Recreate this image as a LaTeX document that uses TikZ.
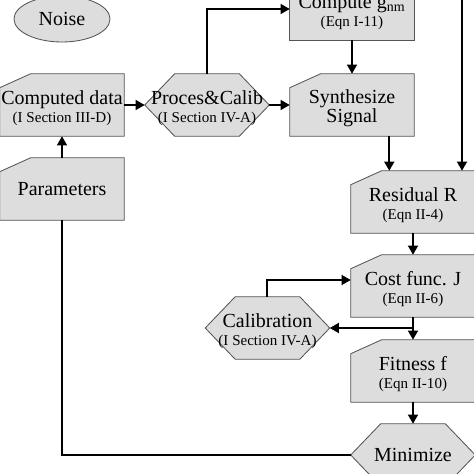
\documentclass[tikz,border=0pt]{standalone}
\usepackage{fontspec}
\setmainfont{Liberation Serif}
\usetikzlibrary{shapes.geometric,arrows.meta,backgrounds}
\definecolor{boxfill}{RGB}{221,221,221}
\definecolor{boxline}{RGB}{85,85,85}
\newcommand{\eqnref}[1]{{\fontsize{10.7}{12}\selectfont #1}}
\newcommand{\lift}{\rule{0pt}{14.4pt}}

\begin{document}
\begin{tikzpicture}[
  card/.style={minimum width=3.1cm, minimum height=1.55cm,
    inner sep=0pt, align=center, font=\fontsize{14.2}{14}\selectfont},
  outline/.style={draw=boxline, fill=boxfill, line width=0.6pt},
  flow/.style={-{Triangle[length=0.23cm,width=0.25cm]}, line width=0.05cm},
  link/.style={line width=0.05cm}]
\useasboundingbox (0,0) rectangle (11.85,11.85);

\node[ellipse, outline, minimum width=2.4cm, minimum height=1.15cm,
  font=\fontsize{14.2}{14}\selectfont] (noise) at (1.55,11.375) {Noise};

\node[card] (data) at (1.55,9.225) {\lift Computed data\\[-1.4pt]\eqnref{(I Section III-D)}};
\node[card] (params) at (1.55,7.125) {Parameters};
\node[card] (proc) at (5.175,9.225) {\lift Proces\&Calib\\[-1.4pt]\eqnref{(I Section IV-A)}};
\node[card] (gnm) at (8.8,11.625) {\lift Compute g\textsubscript{nm}\\[-1.4pt]\eqnref{(Eqn I-11)}};
\node[card] (synth) at (8.8,9.225) {\lift Synthesize\\[-0.5pt]Signal};
\node[card] (resid) at (10.325,6.8) {\lift Residual R\\[-1.4pt]\eqnref{(Eqn II-4)}};
\node[card] (cost) at (10.325,4.7) {\lift Cost func. J\\[-1.4pt]\eqnref{(Eqn II-6)}};
\node[card] (fit) at (10.325,2.575) {\lift Fitness f\\[-1.4pt]\eqnref{(Eqn II-10)}};
\node[card] (mini) at (10.325,0.475) {Minimize};
\node[card] (calib) at (6.6875,3.65) {\lift Calibration\\[-1.4pt]\eqnref{(I Section IV-A)}};

% box outlines behind the text
\begin{scope}[on background layer]
\foreach \n in {data,params,synth,resid,cost,fit}
  \path[outline] ([yshift=-0.35cm]\n.north west) -- ([xshift=0.775cm]\n.north west)
    -- (\n.north east) -- (\n.south east) -- (\n.south west) -- cycle;
\foreach \n in {proc,calib,mini}
  \path[outline] (\n.west) -- ([xshift=0.75cm]\n.north west) -- ([xshift=-0.75cm]\n.north east)
    -- (\n.east) -- ([xshift=-0.75cm]\n.south east) -- ([xshift=0.75cm]\n.south west) -- cycle;
\path[outline] (gnm.north west) rectangle (gnm.south east);
\end{scope}

\coordinate (feed) at (11.55,11.95);
\coordinate (s2r) at ([xshift=-0.625cm]synth.south east);

% data path
\draw[flow] (params.north) -- (data.south);
\draw[flow] (data.east) -- (proc.west);
\draw[flow] (proc.north) |- (gnm.west);
\draw[flow] (proc.east) -- (synth.west);
\draw[flow] (gnm.south) -- (synth.north);
\draw[flow] (s2r) -- (s2r |- resid.north);
\draw[flow] (feed) -- (feed |- resid.north);

% optimisation loop
\draw[flow] (resid.south) -- (cost.north);
\draw[flow] (cost.south) -- (fit.north);
\draw[flow] (cost.south |- calib.east) -- (calib.east);
\draw[flow] (calib.north) |- ([yshift=0.15cm]cost.west);
\draw[flow] (fit.south) -- (mini.north);
\draw[link] (params.south) |- (mini.west);
\end{tikzpicture}
\end{document}
